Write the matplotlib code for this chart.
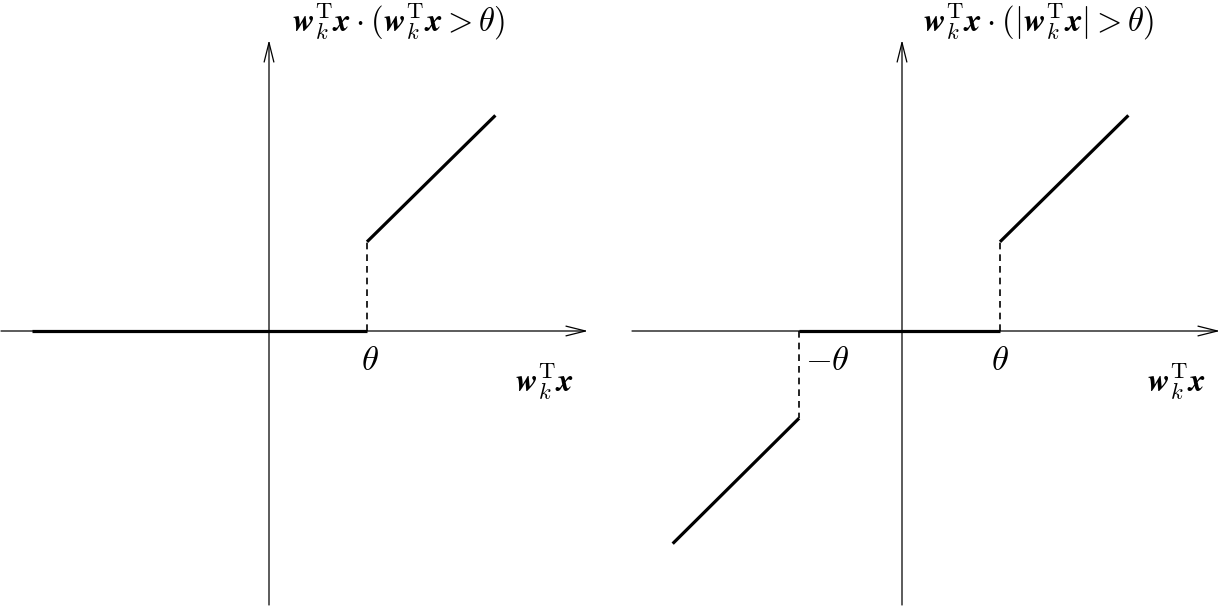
import matplotlib
matplotlib.use("Agg")
import matplotlib.pyplot as plt

plt.rcParams['mathtext.fontset'] = 'cm'

# data in units of theta (theta = 1)
theta = 1.0
neg_theta = -1.05
# left panel: hard threshold  y = x * (x > theta)
left_zero_x = [-2.42, theta]
left_zero_y = [0.0, 0.0]
left_pos_x = [theta, 2.31]
left_pos_y = [0.91, 2.20]
# right panel: y = x * (|x| > theta)
right_zero_x = [neg_theta, theta]
right_zero_y = [0.0, 0.0]
right_pos_x = [theta, 2.31]
right_pos_y = [0.91, 2.20]
right_neg_x = [neg_theta, -2.34]
right_neg_y = [-0.89, -2.17]

title_left = r'$\mathbfit{w}_k^{\mathrm{T}}\mathbfit{x}\cdot(\mathbfit{w}_k^{\mathrm{T}}\mathbfit{x}>\theta)$'
title_right = r'$\mathbfit{w}_k^{\mathrm{T}}\mathbfit{x}\cdot(|\mathbfit{w}_k^{\mathrm{T}}\mathbfit{x}|>\theta)$'
xlabel = r'$\mathbfit{w}_k^{\mathrm{T}}\mathbfit{x}$'

W, H = 1224, 610
S = 98.0  # px per unit
fig = plt.figure(figsize=(W / 100, H / 100), dpi=100)


def make_ax(left_px, width_px, ox, oy):
    ax = fig.add_axes([left_px / W, 0, width_px / W, 1])
    ax.set_xlim((left_px - ox) / S, (left_px + width_px - ox) / S)
    ax.set_ylim(-(H - oy) / S, oy / S)
    ax.axis('off')
    return ax


def draw_axes(ax, ox, x0px, x1px):
    ap = dict(arrowstyle='->,head_length=1.4,head_width=0.35', lw=0.9,
              color='black', shrinkA=0, shrinkB=0, mutation_scale=10)
    ax.annotate('', xy=((x1px - ox) / S, 0), xytext=((x0px - ox) / S, 0), arrowprops=ap)
    ax.annotate('', xy=(0, (331 - 40) / S), xytext=(0, -(605 - 331) / S), arrowprops=ap)


lw_thick = 2.3
fs_th = 25
fs_big = 23.5
base_title = (331 - 32) / S
base_xl = -(392 - 331) / S
base_th = -(370 - 331) / S

# left
axL = make_ax(0, 612, 269, 331)
draw_axes(axL, 269, 1, 588)
axL.plot(left_zero_x, left_zero_y, color='black', lw=lw_thick, solid_capstyle='butt')
axL.plot(left_pos_x, left_pos_y, color='black', lw=lw_thick, solid_capstyle='butt')
axL.plot([theta, theta], [0, left_pos_y[0]], color='black', lw=1.2, ls=(0, (4, 3)))
axL.text(theta + 0.03, base_th, r'$\theta$', fontsize=fs_th, ha='center', va='baseline')
axL.text((545 - 269) / S, base_xl, xlabel, fontsize=fs_big, ha='center', va='baseline')
axL.text((399 - 269) / S, base_title, title_left, fontsize=fs_big, ha='center', va='baseline')

# right
axR = make_ax(612, 612, 902, 331)
draw_axes(axR, 902, 632, 1220)
axR.plot(right_zero_x, right_zero_y, color='black', lw=lw_thick, solid_capstyle='butt')
axR.plot(right_pos_x, right_pos_y, color='black', lw=lw_thick, solid_capstyle='butt')
axR.plot(right_neg_x, right_neg_y, color='black', lw=lw_thick, solid_capstyle='butt')
axR.plot([theta, theta], [0, right_pos_y[0]], color='black', lw=1.2, ls=(0, (4, 3)))
axR.plot([neg_theta, neg_theta], [0, right_neg_y[0]], color='black', lw=1.2, ls=(0, (4, 3)))
axR.text(theta, base_th, r'$\theta$', fontsize=fs_th, ha='center', va='baseline')
axR.text((827 - 902) / S, base_th, r'$-\theta$', fontsize=fs_th, ha='center', va='baseline')
axR.text((1177 - 902) / S, base_xl, xlabel, fontsize=fs_big, ha='center', va='baseline')
axR.text((1039 - 902) / S, base_title, title_right, fontsize=fs_big, ha='center', va='baseline')

fig.savefig('out.png', dpi=100)
